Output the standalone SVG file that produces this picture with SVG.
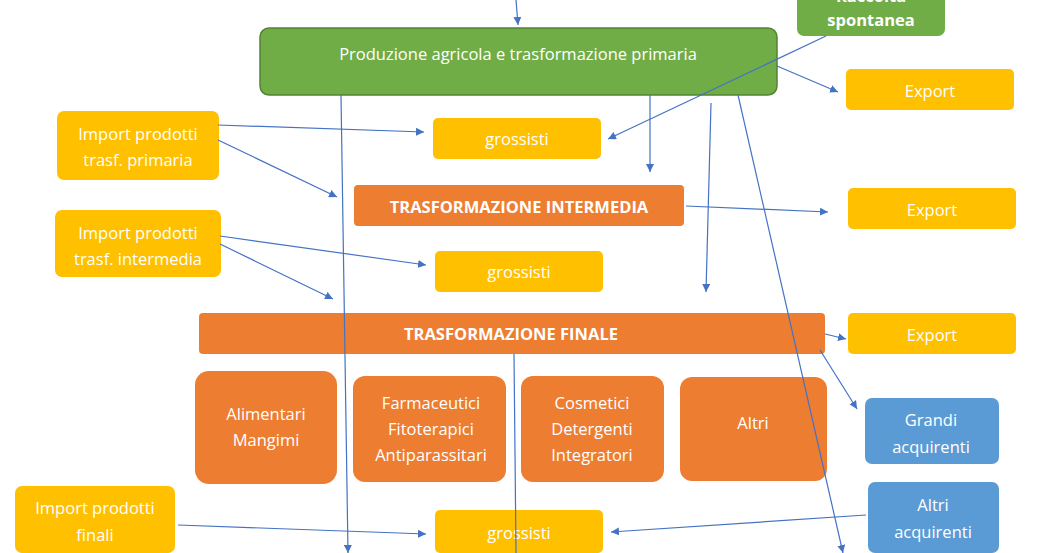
<svg xmlns="http://www.w3.org/2000/svg" width="1053" height="553" viewBox="0 0 1053 553">
<style>
text{font-family:"Open Sans","Liberation Sans",sans-serif;fill:#fff;font-size:16.5px;text-anchor:middle}
.b{font-weight:bold}
.y{fill:#ffc000}.o{fill:#ed7d31}.g{fill:#70ad47}.bl{fill:#5b9bd5}
.c line{stroke:#4472c4;stroke-width:1.2;marker-end:url(#a)}
</style>
<defs><marker id="a" viewBox="0 0 10 10" refX="10" refY="5" markerWidth="8" markerHeight="8" orient="auto" markerUnits="userSpaceOnUse"><path d="M0,0L10,5L0,10z" fill="#4472c4"/></marker></defs>
<rect width="1053" height="553" fill="#fff"/>
<g id="n1"><rect class="g" x="260" y="28" width="517" height="67" rx="9" stroke="#548235" stroke-width="1.5"/><text x="518" y="60">Produzione agricola e trasformazione primaria</text></g>
<g id="n2"><rect class="g" x="797" y="-10" width="148" height="46" rx="7"/><text class="b" x="871" y="2">Raccolta</text><text class="b" x="871" y="26">spontanea</text></g>
<g id="n3"><rect class="y" x="846" y="69" width="168" height="41" rx="5"/><text x="930" y="97">Export</text></g>
<g id="n4"><rect class="y" x="57" y="111" width="162" height="69" rx="7"/><text x="138" y="140">Import prodotti</text><text x="138" y="166">trasf. primaria</text></g>
<g id="n5"><rect class="y" x="433" y="118" width="168" height="41" rx="5"/><text x="517" y="145">grossisti</text></g>
<g id="n6"><rect class="o" x="354" y="185" width="330" height="41" rx="4"/><text class="b" x="519" y="213">TRASFORMAZIONE INTERMEDIA</text></g>
<g id="n7"><rect class="y" x="848" y="188" width="168" height="41" rx="5"/><text x="932" y="216">Export</text></g>
<g id="n8"><rect class="y" x="55" y="210" width="166" height="67" rx="7"/><text x="138" y="239">Import prodotti</text><text x="138" y="265">trasf. intermedia</text></g>
<g id="n9"><rect class="y" x="435" y="251" width="168" height="41" rx="5"/><text x="519" y="278">grossisti</text></g>
<g id="n10"><rect class="o" x="199" y="313" width="626" height="41" rx="4"/><text class="b" x="511" y="340">TRASFORMAZIONE FINALE</text></g>
<g id="n11"><rect class="y" x="848" y="313" width="168" height="41" rx="5"/><text x="932" y="341">Export</text></g>
<g id="n12"><rect class="o" x="195" y="371" width="142" height="113" rx="14"/><text x="266" y="420">Alimentari</text><text x="266" y="446">Mangimi</text></g>
<g id="n13"><rect class="o" x="353" y="376" width="153" height="106" rx="12"/><text x="431" y="409">Farmaceutici</text><text x="431" y="435">Fitoterapici</text><text x="431" y="461">Antiparassitari</text></g>
<g id="n14"><rect class="o" x="521" y="376" width="143" height="106" rx="12"/><text x="592" y="409">Cosmetici</text><text x="592" y="435">Detergenti</text><text x="592" y="461">Integratori</text></g>
<g id="n15"><rect class="o" x="680" y="377" width="147" height="104" rx="12"/><text x="753" y="429">Altri</text></g>
<g id="n16"><rect class="bl" x="865" y="398" width="134" height="66" rx="7"/><text x="931" y="426">Grandi</text><text x="931" y="453">acquirenti</text></g>
<g id="n17"><rect class="y" x="15" y="486" width="160" height="67" rx="7"/><text x="95" y="514">Import prodotti</text><text x="95" y="541">finali</text></g>
<g id="n18"><rect class="y" x="435" y="510" width="168" height="43" rx="5"/><text x="519" y="539">grossisti</text></g>
<g id="n19"><rect class="bl" x="868" y="482" width="131" height="71" rx="7"/><text x="933" y="511">Altri</text><text x="933" y="538">acquirenti</text></g>
<g class="c">
<line x1="516" y1="0" x2="518" y2="25"/>
<line x1="218" y1="125" x2="424" y2="132"/>
<line x1="218" y1="140" x2="337" y2="197"/>
<line x1="826" y1="36" x2="608" y2="139"/>
<line x1="777" y1="66" x2="838" y2="92"/>
<line x1="650" y1="95" x2="650" y2="172"/>
<line x1="686" y1="206" x2="828" y2="212"/>
<line x1="220" y1="236" x2="426" y2="265"/>
<line x1="220" y1="244" x2="333" y2="299"/>
<line x1="711" y1="103" x2="706" y2="292"/>
<line x1="341" y1="95" x2="348" y2="553"/>
<line x1="738" y1="95" x2="843" y2="553"/>
<line x1="825" y1="334" x2="846" y2="339"/>
<line x1="820" y1="350" x2="857" y2="409"/>
<line x1="178" y1="525" x2="426" y2="534"/>
<line x1="866" y1="515" x2="611" y2="532"/>
</g>
<line x1="514" y1="354" x2="516" y2="553" stroke="#4472c4" stroke-width="1.2"/>
</svg>
